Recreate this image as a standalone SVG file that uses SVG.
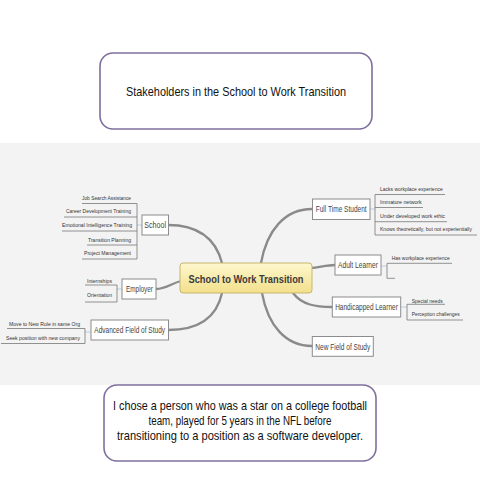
<svg xmlns="http://www.w3.org/2000/svg" width="480" height="480" viewBox="0 0 480 480">
<defs>
<linearGradient id="cg" x1="0" y1="0" x2="0" y2="1">
<stop offset="0" stop-color="#fdf7cf"/>
<stop offset="1" stop-color="#f3e08a"/>
</linearGradient>
<style>
.note{fill:#fff;stroke:#7f6f9e;stroke-width:1.6}
.nt{font-family:"Liberation Sans",Arial,sans-serif;font-size:13px;fill:#111;text-anchor:middle}
.box{fill:#fff;stroke:#8c8c8c;stroke-width:1}
.bt{font-family:"Liberation Sans",Arial,sans-serif;font-size:8.5px;fill:#444;text-anchor:middle}
.lt{font-family:"Liberation Sans",Arial,sans-serif;font-size:5.6px;fill:#333}
.lt.sm{font-size:5px}
.ul{stroke:#777;stroke-width:0.8;fill:none}
.sc{stroke:#a9c4dc;stroke-width:0.8;fill:none}
.con{stroke:#8a8a8a;stroke-width:2.3;fill:none;stroke-linecap:round}
</style>
</defs>
<rect x="0" y="0" width="480" height="480" fill="#fff"/>
<rect x="0" y="143" width="480" height="242" fill="#f3f3f3"/>

<g id="title">
<rect class="note" x="100" y="53" width="272" height="76" rx="13"/>
<text class="nt" x="236" y="96" textLength="220" lengthAdjust="spacingAndGlyphs">Stakeholders in the School to Work Transition</text>
</g>

<g id="connectors">
<path class="con" d="M168,225 C200,225 216,240 222,263"/>
<path class="con" d="M156,289 C166,289 172,283 181,281"/>
<path class="con" d="M168,330 C200,330 217,316 222,293"/>
<path class="con" d="M261,263 C267,230 285,209 312,209"/>
<path class="con" d="M311,268 C320,267 328,265 335,265"/>
<path class="con" d="M293,293 C302,305 316,307 332,307"/>
<path class="con" d="M262,293 C268,326 286,346 312,346"/>
<path class="sc" d="M137,225 H142 M117,289 H122 M85,332 H91 M370,209 H375 M381,266 H387 M401,307 H407"/>
</g>

<g id="central">
<rect x="180" y="263" width="132" height="30" rx="3" fill="url(#cg)" stroke="#c7b56e" stroke-width="1"/>
<text x="246" y="282.5" font-family="'Liberation Sans',Arial,sans-serif" font-size="10.5" font-weight="bold" fill="#3a3a3a" text-anchor="middle" textLength="115" lengthAdjust="spacingAndGlyphs">School to Work Transition</text>
</g>

<g id="school">
<rect class="box" x="142" y="215" width="26.5" height="20"/>
<text class="bt" x="155.2" y="228" textLength="21.7" lengthAdjust="spacingAndGlyphs">School</text>
<path class="ul" d="M82,203.5 H137 V259 M64,217 H137 M62,231 H137 M87,245 H137 M82,259 H137"/>
<text class="lt" x="131" y="199.5" text-anchor="end" textLength="49" lengthAdjust="spacingAndGlyphs">Job Search Assistance</text>
<text class="lt" x="131" y="213" text-anchor="end" textLength="65" lengthAdjust="spacingAndGlyphs">Career Development Training</text>
<text class="lt" x="132" y="227" text-anchor="end" textLength="70" lengthAdjust="spacingAndGlyphs">Emotional Intelligence Training</text>
<text class="lt" x="131" y="241.5" text-anchor="end" textLength="43" lengthAdjust="spacingAndGlyphs">Transition Planning</text>
<text class="lt" x="131" y="254.5" text-anchor="end" textLength="47" lengthAdjust="spacingAndGlyphs">Project Management</text>
</g>

<g id="employer">
<rect class="box" x="122" y="279" width="34" height="20"/>
<text class="bt" x="139.5" y="292" textLength="27" lengthAdjust="spacingAndGlyphs">Employer</text>
<path class="ul" d="M85,285 H117 V302 M85,302 H117"/>
<text class="lt" x="87" y="282.5" textLength="25" lengthAdjust="spacingAndGlyphs">Internships</text>
<text class="lt" x="87" y="297" textLength="25" lengthAdjust="spacingAndGlyphs">Orientation</text>
</g>

<g id="advanced">
<rect class="box" x="91" y="320" width="77.5" height="20"/>
<text class="bt" x="129.7" y="333" textLength="70.7" lengthAdjust="spacingAndGlyphs">Advanced Field of Study</text>
<path class="ul" d="M7,328.5 H85 V343.5 M1,343.5 H85"/>
<text class="lt" x="9" y="325.5" textLength="71" lengthAdjust="spacingAndGlyphs">Move to New Role in same Org</text>
<text class="lt" x="6" y="339.8" textLength="74" lengthAdjust="spacingAndGlyphs">Seek position with new company</text>
</g>

<g id="fulltime">
<rect class="box" x="312.5" y="199" width="57.5" height="20.5"/>
<text class="bt" x="341.2" y="212" textLength="51" lengthAdjust="spacingAndGlyphs">Full Time Student</text>
<path class="ul" d="M375,194.5 H445 M375,194.5 V235 M375,207.5 H423 M375,221.7 H447 M375,235 H477"/>
<text class="lt" x="380" y="190.5" textLength="62.7" lengthAdjust="spacingAndGlyphs">Lacks workplace experience</text>
<text class="lt" x="380" y="204.3" textLength="41.7" lengthAdjust="spacingAndGlyphs">Immature network</text>
<text class="lt" x="380" y="218" textLength="65" lengthAdjust="spacingAndGlyphs">Under developed work ethic</text>
<text class="lt sm" x="380" y="231.4" textLength="92" lengthAdjust="spacingAndGlyphs">Knows theoretically, but not experientially</text>
</g>

<g id="adult">
<rect class="box" x="335" y="255" width="46" height="20"/>
<text class="bt" x="358" y="268" textLength="40" lengthAdjust="spacingAndGlyphs">Adult Learner</text>
<path class="ul" d="M387,263.3 H452 M387,263.3 V278.3 H395"/>
<text class="lt" x="391.7" y="260.3" textLength="58" lengthAdjust="spacingAndGlyphs">Has workplace experience</text>
</g>

<g id="handicapped">
<rect class="box" x="332.3" y="297" width="68.4" height="20"/>
<text class="bt" x="366.5" y="310" textLength="62.7" lengthAdjust="spacingAndGlyphs">Handicapped Learner</text>
<path class="ul" d="M407,304.3 H445 M407,304.3 V320 H463"/>
<text class="lt" x="411.7" y="302.7" textLength="31" lengthAdjust="spacingAndGlyphs">Special needs</text>
<text class="lt" x="411.7" y="316" textLength="48" lengthAdjust="spacingAndGlyphs">Perception challenges</text>
</g>

<g id="newfield">
<rect class="box" x="312.3" y="336.5" width="61" height="19.8"/>
<text class="bt" x="342.8" y="349.5" textLength="55" lengthAdjust="spacingAndGlyphs">New Field of Study</text>
</g>

<g id="note">
<rect class="note" x="104" y="385" width="272" height="76" rx="13" stroke-width="2"/>
<text class="nt" x="240" y="410" textLength="254" lengthAdjust="spacingAndGlyphs">I chose a person who was a star on a college football</text>
<text class="nt" x="240" y="425" textLength="183" lengthAdjust="spacingAndGlyphs">team, played for 5 years in the NFL before</text>
<text class="nt" x="240" y="440" textLength="246" lengthAdjust="spacingAndGlyphs">transitioning to a position as a software developer.</text>
</g>
</svg>
